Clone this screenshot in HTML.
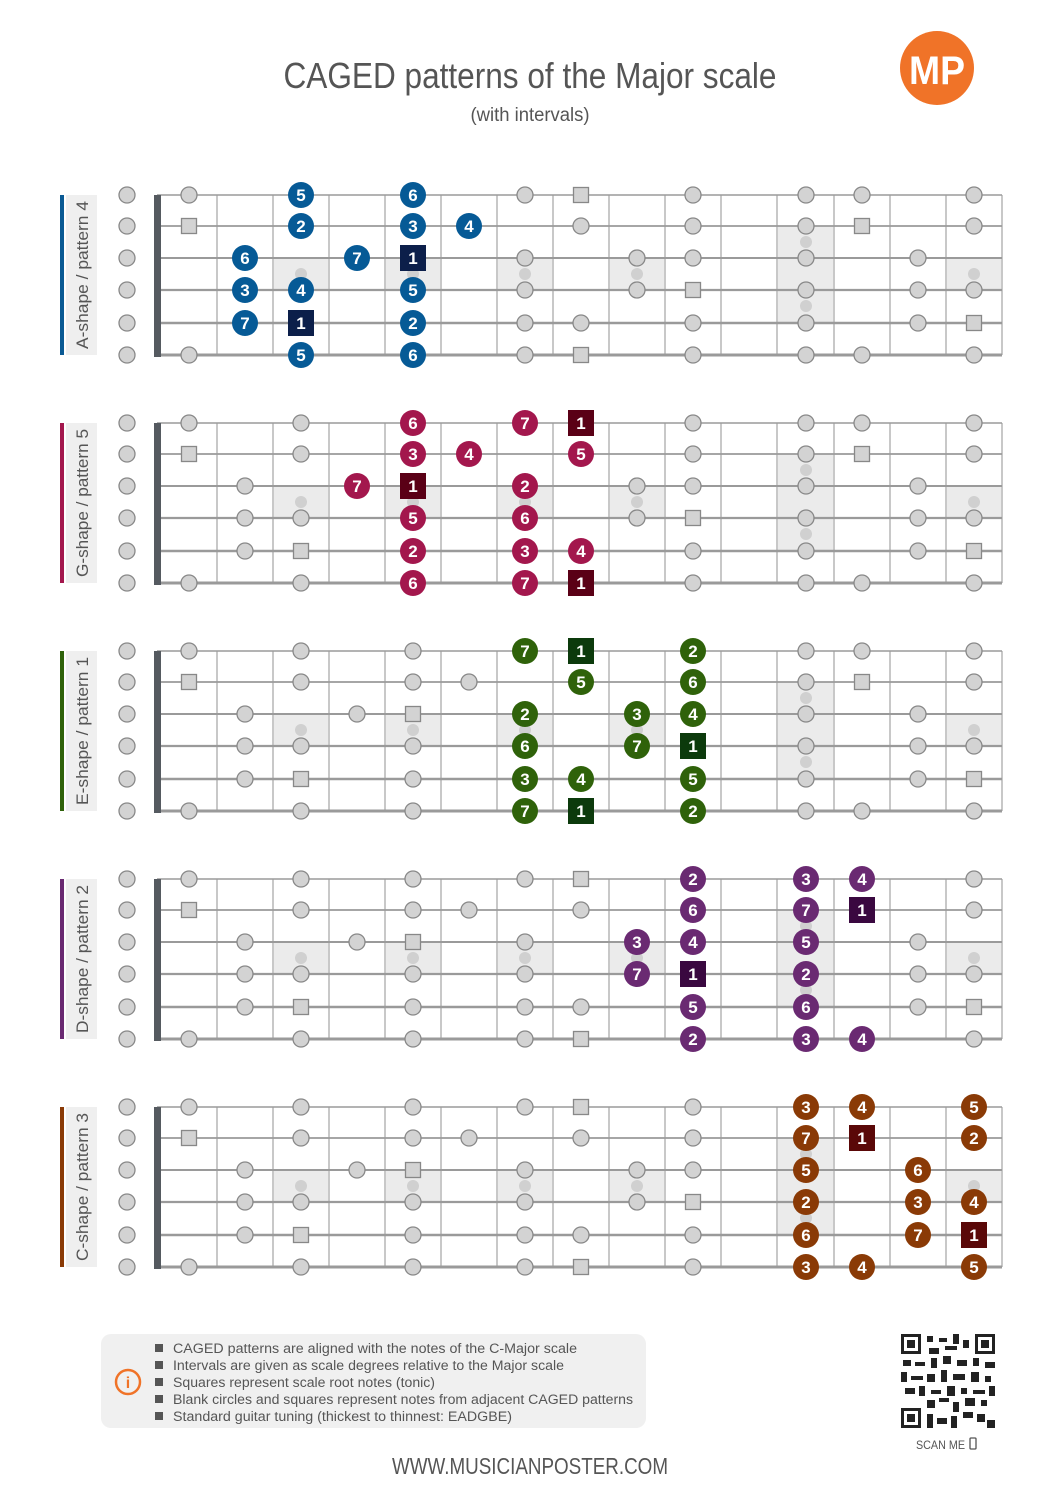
<!DOCTYPE html>
<html><head><meta charset="utf-8"><style>
html,body{margin:0;padding:0;background:#fff}
svg{display:block}
.t{font-family:"Liberation Sans",sans-serif}
.n text{font-family:"Liberation Sans",sans-serif;font-weight:bold;font-size:17px;fill:#fff;text-anchor:middle}
</style></head><body>
<svg width="1061" height="1500" viewBox="0 0 1061 1500" xmlns="http://www.w3.org/2000/svg">
<defs>
<circle id="gc" r="8" fill="#d3d3d3" stroke="#888" stroke-width="1.3"/>
<rect id="gs" x="-7.5" y="-7.5" width="15" height="15" fill="#d3d3d3" stroke="#888" stroke-width="1.3"/>
<g id="board">
 <g fill="#ebebeb">
  <rect x="273" y="63" width="56" height="32"/><rect x="385" y="63" width="56" height="32"/>
  <rect x="497" y="63" width="56" height="32"/><rect x="609" y="63" width="56" height="32"/>
  <rect x="946" y="63" width="56" height="32"/><rect x="777" y="31" width="57" height="97"/>
 </g>
 <g stroke="#c8c8c8" stroke-width="2">
  <line x1="217" y1="0" x2="217" y2="160"/><line x1="273" y1="0" x2="273" y2="160"/><line x1="329" y1="0" x2="329" y2="160"/>
  <line x1="385" y1="0" x2="385" y2="160"/><line x1="441" y1="0" x2="441" y2="160"/><line x1="497" y1="0" x2="497" y2="160"/>
  <line x1="553" y1="0" x2="553" y2="160"/><line x1="609" y1="0" x2="609" y2="160"/><line x1="665" y1="0" x2="665" y2="160"/>
  <line x1="721" y1="0" x2="721" y2="160"/><line x1="777" y1="0" x2="777" y2="160"/><line x1="834" y1="0" x2="834" y2="160"/>
  <line x1="890" y1="0" x2="890" y2="160"/><line x1="946" y1="0" x2="946" y2="160"/><line x1="1002" y1="0" x2="1002" y2="160"/>
 </g>
 <g fill="#d0d0d0">
  <circle cx="301" cy="79" r="6"/><circle cx="413" cy="79" r="6"/><circle cx="525" cy="79" r="6"/><circle cx="637" cy="79" r="6"/>
  <circle cx="974" cy="79" r="6"/><circle cx="806" cy="47" r="6"/><circle cx="806" cy="111" r="6"/>
 </g>
 <g stroke="#9a9a9a">
  <line x1="157" y1="0" x2="1002" y2="0" stroke-width="1.5"/>
  <line x1="157" y1="31" x2="1002" y2="31" stroke-width="1.7"/>
  <line x1="157" y1="63" x2="1002" y2="63" stroke-width="2"/>
  <line x1="157" y1="95" x2="1002" y2="95" stroke-width="2.2"/>
  <line x1="157" y1="128" x2="1002" y2="128" stroke-width="2.6"/>
  <line x1="157" y1="160" x2="1002" y2="160" stroke-width="3"/>
 </g>
 <rect x="154" y="0" width="7" height="162" fill="#555a60"/>
 <use href="#gc" x="127" y="0"/><use href="#gc" x="189" y="0"/><use href="#gc" x="301" y="0"/><use href="#gc" x="413" y="0"/><use href="#gc" x="525" y="0"/><use href="#gs" x="581" y="0"/><use href="#gc" x="693" y="0"/><use href="#gc" x="806" y="0"/><use href="#gc" x="862" y="0"/><use href="#gc" x="974" y="0"/>
 <use href="#gc" x="127" y="31"/><use href="#gs" x="189" y="31"/><use href="#gc" x="301" y="31"/><use href="#gc" x="413" y="31"/><use href="#gc" x="469" y="31"/><use href="#gc" x="581" y="31"/><use href="#gc" x="693" y="31"/><use href="#gc" x="806" y="31"/><use href="#gs" x="862" y="31"/><use href="#gc" x="974" y="31"/>
 <use href="#gc" x="127" y="63"/><use href="#gc" x="245" y="63"/><use href="#gc" x="357" y="63"/><use href="#gs" x="413" y="63"/><use href="#gc" x="525" y="63"/><use href="#gc" x="637" y="63"/><use href="#gc" x="693" y="63"/><use href="#gc" x="806" y="63"/><use href="#gc" x="918" y="63"/>
 <use href="#gc" x="127" y="95"/><use href="#gc" x="245" y="95"/><use href="#gc" x="301" y="95"/><use href="#gc" x="413" y="95"/><use href="#gc" x="525" y="95"/><use href="#gc" x="637" y="95"/><use href="#gs" x="693" y="95"/><use href="#gc" x="806" y="95"/><use href="#gc" x="918" y="95"/><use href="#gc" x="974" y="95"/>
 <use href="#gc" x="127" y="128"/><use href="#gc" x="245" y="128"/><use href="#gs" x="301" y="128"/><use href="#gc" x="413" y="128"/><use href="#gc" x="525" y="128"/><use href="#gc" x="581" y="128"/><use href="#gc" x="693" y="128"/><use href="#gc" x="806" y="128"/><use href="#gc" x="918" y="128"/><use href="#gs" x="974" y="128"/>
 <use href="#gc" x="127" y="160"/><use href="#gc" x="189" y="160"/><use href="#gc" x="301" y="160"/><use href="#gc" x="413" y="160"/><use href="#gc" x="525" y="160"/><use href="#gs" x="581" y="160"/><use href="#gc" x="693" y="160"/><use href="#gc" x="806" y="160"/><use href="#gc" x="862" y="160"/><use href="#gc" x="974" y="160"/>
</g>
</defs>

<text class="t" x="530" y="88" text-anchor="middle" font-size="36" fill="#555" textLength="493" lengthAdjust="spacingAndGlyphs">CAGED patterns of the Major scale</text>
<text class="t" x="530" y="121" text-anchor="middle" font-size="19" fill="#555" textLength="119" lengthAdjust="spacingAndGlyphs">(with intervals)</text>
<circle cx="937" cy="68" r="37" fill="#f07328"/>
<text class="t" x="937" y="84" text-anchor="middle" font-size="40" font-weight="bold" fill="#fff" textLength="56" lengthAdjust="spacingAndGlyphs">MP</text>

<!-- Panel 1 -->
<g transform="translate(0,195)">
<rect x="60" y="0" width="4" height="160" fill="#0a5a94"/><rect x="66" y="0" width="31" height="160" fill="#efefef"/>
<text class="t" transform="translate(88,80) rotate(-90)" text-anchor="middle" font-size="17" fill="#555" textLength="148" lengthAdjust="spacingAndGlyphs">A-shape / pattern 4</text>
<use href="#board"/>
<g class="n" fill="#065a96">
<circle cx="301" cy="0" r="13"/><text x="301" y="6">5</text><circle cx="413" cy="0" r="13"/><text x="413" y="6">6</text>
<circle cx="301" cy="31" r="13"/><text x="301" y="37">2</text><circle cx="413" cy="31" r="13"/><text x="413" y="37">3</text><circle cx="469" cy="31" r="13"/><text x="469" y="37">4</text>
<circle cx="245" cy="63" r="13"/><text x="245" y="69">6</text><circle cx="357" cy="63" r="13"/><text x="357" y="69">7</text><rect x="400" y="50" width="26" height="26" fill="#0c1f4a"/><text x="413" y="69">1</text>
<circle cx="245" cy="95" r="13"/><text x="245" y="101">3</text><circle cx="301" cy="95" r="13"/><text x="301" y="101">4</text><circle cx="413" cy="95" r="13"/><text x="413" y="101">5</text>
<circle cx="245" cy="128" r="13"/><text x="245" y="134">7</text><rect x="288" y="115" width="26" height="26" fill="#0c1f4a"/><text x="301" y="134">1</text><circle cx="413" cy="128" r="13"/><text x="413" y="134">2</text>
<circle cx="301" cy="160" r="13"/><text x="301" y="166">5</text><circle cx="413" cy="160" r="13"/><text x="413" y="166">6</text>
</g></g>

<!-- Panel 2 -->
<g transform="translate(0,423)">
<rect x="60" y="0" width="4" height="160" fill="#a3174d"/><rect x="66" y="0" width="31" height="160" fill="#efefef"/>
<text class="t" transform="translate(88,80) rotate(-90)" text-anchor="middle" font-size="17" fill="#555" textLength="148" lengthAdjust="spacingAndGlyphs">G-shape / pattern 5</text>
<use href="#board"/>
<g class="n" fill="#a3174d">
<circle cx="413" cy="0" r="13"/><text x="413" y="6">6</text><circle cx="525" cy="0" r="13"/><text x="525" y="6">7</text><rect x="568" y="-13" width="26" height="26" fill="#5a0016"/><text x="581" y="6">1</text>
<circle cx="413" cy="31" r="13"/><text x="413" y="37">3</text><circle cx="469" cy="31" r="13"/><text x="469" y="37">4</text><circle cx="581" cy="31" r="13"/><text x="581" y="37">5</text>
<circle cx="357" cy="63" r="13"/><text x="357" y="69">7</text><rect x="400" y="50" width="26" height="26" fill="#5a0016"/><text x="413" y="69">1</text><circle cx="525" cy="63" r="13"/><text x="525" y="69">2</text>
<circle cx="413" cy="95" r="13"/><text x="413" y="101">5</text><circle cx="525" cy="95" r="13"/><text x="525" y="101">6</text>
<circle cx="413" cy="128" r="13"/><text x="413" y="134">2</text><circle cx="525" cy="128" r="13"/><text x="525" y="134">3</text><circle cx="581" cy="128" r="13"/><text x="581" y="134">4</text>
<circle cx="413" cy="160" r="13"/><text x="413" y="166">6</text><circle cx="525" cy="160" r="13"/><text x="525" y="166">7</text><rect x="568" y="147" width="26" height="26" fill="#5a0016"/><text x="581" y="166">1</text>
</g></g>

<!-- Panel 3 -->
<g transform="translate(0,651)">
<rect x="60" y="0" width="4" height="160" fill="#2f620a"/><rect x="66" y="0" width="31" height="160" fill="#efefef"/>
<text class="t" transform="translate(88,80) rotate(-90)" text-anchor="middle" font-size="17" fill="#555" textLength="148" lengthAdjust="spacingAndGlyphs">E-shape / pattern 1</text>
<use href="#board"/>
<g class="n" fill="#2f620a">
<circle cx="525" cy="0" r="13"/><text x="525" y="6">7</text><rect x="568" y="-13" width="26" height="26" fill="#0c3a0c"/><text x="581" y="6">1</text><circle cx="693" cy="0" r="13"/><text x="693" y="6">2</text>
<circle cx="581" cy="31" r="13"/><text x="581" y="37">5</text><circle cx="693" cy="31" r="13"/><text x="693" y="37">6</text>
<circle cx="525" cy="63" r="13"/><text x="525" y="69">2</text><circle cx="637" cy="63" r="13"/><text x="637" y="69">3</text><circle cx="693" cy="63" r="13"/><text x="693" y="69">4</text>
<circle cx="525" cy="95" r="13"/><text x="525" y="101">6</text><circle cx="637" cy="95" r="13"/><text x="637" y="101">7</text><rect x="680" y="82" width="26" height="26" fill="#0c3a0c"/><text x="693" y="101">1</text>
<circle cx="525" cy="128" r="13"/><text x="525" y="134">3</text><circle cx="581" cy="128" r="13"/><text x="581" y="134">4</text><circle cx="693" cy="128" r="13"/><text x="693" y="134">5</text>
<circle cx="525" cy="160" r="13"/><text x="525" y="166">7</text><rect x="568" y="147" width="26" height="26" fill="#0c3a0c"/><text x="581" y="166">1</text><circle cx="693" cy="160" r="13"/><text x="693" y="166">2</text>
</g></g>

<!-- Panel 4 -->
<g transform="translate(0,879)">
<rect x="60" y="0" width="4" height="160" fill="#6a2a72"/><rect x="66" y="0" width="31" height="160" fill="#efefef"/>
<text class="t" transform="translate(88,80) rotate(-90)" text-anchor="middle" font-size="17" fill="#555" textLength="148" lengthAdjust="spacingAndGlyphs">D-shape / pattern 2</text>
<use href="#board"/>
<g class="n" fill="#6a2a72">
<circle cx="693" cy="0" r="13"/><text x="693" y="6">2</text><circle cx="806" cy="0" r="13"/><text x="806" y="6">3</text><circle cx="862" cy="0" r="13"/><text x="862" y="6">4</text>
<circle cx="693" cy="31" r="13"/><text x="693" y="37">6</text><circle cx="806" cy="31" r="13"/><text x="806" y="37">7</text><rect x="849" y="18" width="26" height="26" fill="#3a0840"/><text x="862" y="37">1</text>
<circle cx="637" cy="63" r="13"/><text x="637" y="69">3</text><circle cx="693" cy="63" r="13"/><text x="693" y="69">4</text><circle cx="806" cy="63" r="13"/><text x="806" y="69">5</text>
<circle cx="637" cy="95" r="13"/><text x="637" y="101">7</text><rect x="680" y="82" width="26" height="26" fill="#3a0840"/><text x="693" y="101">1</text><circle cx="806" cy="95" r="13"/><text x="806" y="101">2</text>
<circle cx="693" cy="128" r="13"/><text x="693" y="134">5</text><circle cx="806" cy="128" r="13"/><text x="806" y="134">6</text>
<circle cx="693" cy="160" r="13"/><text x="693" y="166">2</text><circle cx="806" cy="160" r="13"/><text x="806" y="166">3</text><circle cx="862" cy="160" r="13"/><text x="862" y="166">4</text>
</g></g>

<!-- Panel 5 -->
<g transform="translate(0,1107)">
<rect x="60" y="0" width="4" height="160" fill="#8a3a06"/><rect x="66" y="0" width="31" height="160" fill="#efefef"/>
<text class="t" transform="translate(88,80) rotate(-90)" text-anchor="middle" font-size="17" fill="#555" textLength="148" lengthAdjust="spacingAndGlyphs">C-shape / pattern 3</text>
<use href="#board"/>
<g class="n" fill="#8a3a06">
<circle cx="806" cy="0" r="13"/><text x="806" y="6">3</text><circle cx="862" cy="0" r="13"/><text x="862" y="6">4</text><circle cx="974" cy="0" r="13"/><text x="974" y="6">5</text>
<circle cx="806" cy="31" r="13"/><text x="806" y="37">7</text><rect x="849" y="18" width="26" height="26" fill="#5a0808"/><text x="862" y="37">1</text><circle cx="974" cy="31" r="13"/><text x="974" y="37">2</text>
<circle cx="806" cy="63" r="13"/><text x="806" y="69">5</text><circle cx="918" cy="63" r="13"/><text x="918" y="69">6</text>
<circle cx="806" cy="95" r="13"/><text x="806" y="101">2</text><circle cx="918" cy="95" r="13"/><text x="918" y="101">3</text><circle cx="974" cy="95" r="13"/><text x="974" y="101">4</text>
<circle cx="806" cy="128" r="13"/><text x="806" y="134">6</text><circle cx="918" cy="128" r="13"/><text x="918" y="134">7</text><rect x="961" y="115" width="26" height="26" fill="#5a0808"/><text x="974" y="134">1</text>
<circle cx="806" cy="160" r="13"/><text x="806" y="166">3</text><circle cx="862" cy="160" r="13"/><text x="862" y="166">4</text><circle cx="974" cy="160" r="13"/><text x="974" y="166">5</text>
</g></g>

<!-- Info box -->
<rect x="101" y="1334" width="545" height="94" rx="10" fill="#f0f0f0"/>
<circle cx="128" cy="1382" r="12" fill="none" stroke="#f07328" stroke-width="2.5"/>
<text class="t" x="128" y="1388" text-anchor="middle" font-size="16" font-weight="bold" fill="#f07328">i</text>
<g fill="#555"><rect x="155" y="1344" width="8" height="8"/><rect x="155" y="1361" width="8" height="8"/><rect x="155" y="1378" width="8" height="8"/><rect x="155" y="1395" width="8" height="8"/><rect x="155" y="1412" width="8" height="8"/></g>
<g class="t" font-size="13.5" fill="#555">
<text x="173" y="1353" textLength="404" lengthAdjust="spacingAndGlyphs">CAGED patterns are aligned with the notes of the C-Major scale</text>
<text x="173" y="1370" textLength="391" lengthAdjust="spacingAndGlyphs">Intervals are given as scale degrees relative to the Major scale</text>
<text x="173" y="1387" textLength="262" lengthAdjust="spacingAndGlyphs">Squares represent scale root notes (tonic)</text>
<text x="173" y="1404" textLength="460" lengthAdjust="spacingAndGlyphs">Blank circles and squares represent notes from adjacent CAGED patterns</text>
<text x="173" y="1421" textLength="339" lengthAdjust="spacingAndGlyphs">Standard guitar tuning (thickest to thinnest: EADGBE)</text>
</g>
<text class="t" x="530" y="1474" text-anchor="middle" font-size="23" fill="#555" textLength="276" lengthAdjust="spacingAndGlyphs">WWW.MUSICIANPOSTER.COM</text>

<!-- QR -->
<g transform="translate(901,1334)">
<rect width="94" height="94" fill="#fff"/>
<g fill="#222">
<rect x="0" y="0" width="20" height="20"/><rect x="74" y="0" width="20" height="20"/><rect x="0" y="74" width="20" height="20"/>
<rect x="26" y="2" width="6" height="6"/><rect x="38" y="4" width="8" height="4"/><rect x="52" y="0" width="6" height="10"/><rect x="62" y="6" width="6" height="8"/>
<rect x="28" y="14" width="10" height="6"/><rect x="44" y="12" width="12" height="4"/><rect x="2" y="26" width="8" height="6"/><rect x="14" y="28" width="10" height="4"/>
<rect x="30" y="24" width="6" height="10"/><rect x="42" y="22" width="8" height="8"/><rect x="56" y="26" width="10" height="6"/><rect x="72" y="24" width="6" height="8"/><rect x="84" y="28" width="10" height="6"/>
<rect x="0" y="38" width="6" height="10"/><rect x="10" y="42" width="12" height="4"/><rect x="26" y="40" width="8" height="8"/><rect x="40" y="36" width="6" height="12"/><rect x="52" y="40" width="12" height="6"/><rect x="70" y="38" width="8" height="10"/><rect x="84" y="42" width="6" height="6"/>
<rect x="4" y="54" width="10" height="6"/><rect x="18" y="52" width="6" height="10"/><rect x="30" y="56" width="10" height="4"/><rect x="46" y="52" width="8" height="10"/><rect x="60" y="54" width="6" height="6"/><rect x="72" y="56" width="12" height="4"/><rect x="88" y="52" width="6" height="10"/>
<rect x="26" y="66" width="8" height="8"/><rect x="38" y="64" width="10" height="4"/><rect x="52" y="68" width="6" height="10"/><rect x="64" y="64" width="10" height="8"/><rect x="80" y="66" width="6" height="6"/>
<rect x="26" y="80" width="6" height="14"/><rect x="36" y="84" width="10" height="6"/><rect x="50" y="82" width="6" height="12"/><rect x="62" y="78" width="10" height="6"/><rect x="76" y="80" width="8" height="8"/><rect x="86" y="86" width="8" height="8"/>
</g>
<g fill="#fff"><rect x="3" y="3" width="14" height="14"/><rect x="77" y="3" width="14" height="14"/><rect x="3" y="77" width="14" height="14"/></g>
<g fill="#222"><rect x="6" y="6" width="8" height="8"/><rect x="80" y="6" width="8" height="8"/><rect x="6" y="80" width="8" height="8"/></g>
</g>
<text class="t" x="916" y="1449" font-size="12" fill="#555" textLength="49" lengthAdjust="spacingAndGlyphs">SCAN ME</text>
<rect x="970" y="1438" width="6" height="11" rx="1" fill="none" stroke="#555" stroke-width="1.3"/>
</svg>
</body></html>
